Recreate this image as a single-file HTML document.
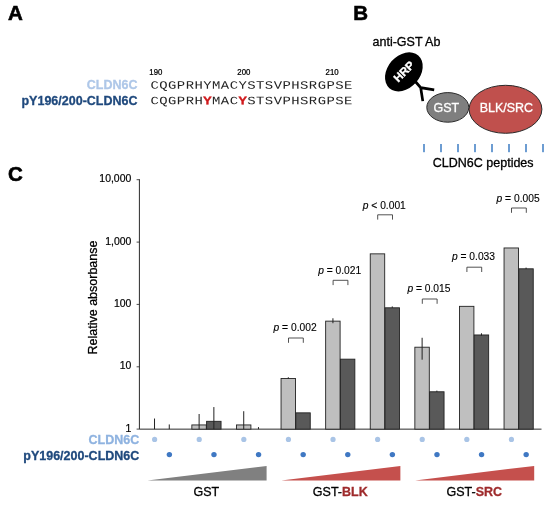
<!DOCTYPE html>
<html lang="en"><head><meta charset="utf-8"><title>Figure</title>
<style>
html,body{margin:0;padding:0;background:#fff;}
svg{display:block;}
text{font-family:"Liberation Sans", Arial, Helvetica, sans-serif;fill:#000;stroke:#000;stroke-width:0.3px;}
.b{font-weight:bold;}
.m{font-family:"Liberation Mono", "Courier New", monospace;fill:#222;stroke:none;}
.lb{fill:#8fb3e0;stroke:#8fb3e0;font-weight:bold;}
.la{fill:#aec7e8;stroke:#aec7e8;font-weight:bold;}
.db{fill:#1f497d;stroke:#1f497d;font-weight:bold;}
.ax{font-size:10.45px;stroke-width:0.2px;}
.pv{font-size:10.25px;stroke-width:0.12px;}
.t{font-size:12.5px;}
.pl{font-weight:bold;font-size:20.5px;stroke-width:0.6px;}
.w{fill:#fff;stroke:#fff;}
</style></head><body>
<svg width="550" height="506" viewBox="0 0 550 506">
<rect width="550" height="506" fill="#fff"/>

<text class="pl" x="7.9" y="20.4">A</text>
<text class="pl" x="353.2" y="20.4">B</text>
<text class="pl" x="8.1" y="180.9">C</text>
<text class="la t" x="137.5" y="88.9" text-anchor="end">CLDN6C</text>
<text class="db t" x="137.5" y="105.2" text-anchor="end">pY196/200-CLDN6C</text>
<text transform="translate(149.3 75.2) scale(0.93 1)" font-size="8.4" style="stroke-width:0.25px">190</text>
<text transform="translate(237.3 75.2) scale(0.93 1)" font-size="8.4" style="stroke-width:0.25px">200</text>
<text transform="translate(325.6 75.2) scale(0.93 1)" font-size="8.4" style="stroke-width:0.25px">210</text>
<text class="m" transform="translate(154.6 88.8) rotate(0.03) scale(1.22 1)" font-size="11.4" text-anchor="middle">C</text>
<text class="m" transform="translate(163.4 88.8) rotate(0.03) scale(1.22 1)" font-size="11.4" text-anchor="middle">Q</text>
<text class="m" transform="translate(172.2 88.8) rotate(0.03) scale(1.22 1)" font-size="11.4" text-anchor="middle">G</text>
<text class="m" transform="translate(181.0 88.8) rotate(0.03) scale(1.22 1)" font-size="11.4" text-anchor="middle">P</text>
<text class="m" transform="translate(189.8 88.8) rotate(0.03) scale(1.22 1)" font-size="11.4" text-anchor="middle">R</text>
<text class="m" transform="translate(198.6 88.8) rotate(0.03) scale(1.22 1)" font-size="11.4" text-anchor="middle">H</text>
<text class="m" transform="translate(207.4 88.8) rotate(0.03) scale(1.22 1)" font-size="11.4" text-anchor="middle">Y</text>
<text class="m" transform="translate(216.2 88.8) rotate(0.03) scale(1.22 1)" font-size="11.4" text-anchor="middle">M</text>
<text class="m" transform="translate(225.0 88.8) rotate(0.03) scale(1.22 1)" font-size="11.4" text-anchor="middle">A</text>
<text class="m" transform="translate(233.8 88.8) rotate(0.03) scale(1.22 1)" font-size="11.4" text-anchor="middle">C</text>
<text class="m" transform="translate(242.6 88.8) rotate(0.03) scale(1.22 1)" font-size="11.4" text-anchor="middle">Y</text>
<text class="m" transform="translate(251.4 88.8) rotate(0.03) scale(1.22 1)" font-size="11.4" text-anchor="middle">S</text>
<text class="m" transform="translate(260.2 88.8) rotate(0.03) scale(1.22 1)" font-size="11.4" text-anchor="middle">T</text>
<text class="m" transform="translate(269.0 88.8) rotate(0.03) scale(1.22 1)" font-size="11.4" text-anchor="middle">S</text>
<text class="m" transform="translate(277.8 88.8) rotate(0.03) scale(1.22 1)" font-size="11.4" text-anchor="middle">V</text>
<text class="m" transform="translate(286.6 88.8) rotate(0.03) scale(1.22 1)" font-size="11.4" text-anchor="middle">P</text>
<text class="m" transform="translate(295.4 88.8) rotate(0.03) scale(1.22 1)" font-size="11.4" text-anchor="middle">H</text>
<text class="m" transform="translate(304.2 88.8) rotate(0.03) scale(1.22 1)" font-size="11.4" text-anchor="middle">S</text>
<text class="m" transform="translate(313.0 88.8) rotate(0.03) scale(1.22 1)" font-size="11.4" text-anchor="middle">R</text>
<text class="m" transform="translate(321.8 88.8) rotate(0.03) scale(1.22 1)" font-size="11.4" text-anchor="middle">G</text>
<text class="m" transform="translate(330.6 88.8) rotate(0.03) scale(1.22 1)" font-size="11.4" text-anchor="middle">P</text>
<text class="m" transform="translate(339.4 88.8) rotate(0.03) scale(1.22 1)" font-size="11.4" text-anchor="middle">S</text>
<text class="m" transform="translate(348.2 88.8) rotate(0.03) scale(1.22 1)" font-size="11.4" text-anchor="middle">E</text>
<text class="m" transform="translate(154.6 104.3) rotate(0.03) scale(1.22 1)" font-size="11.4" text-anchor="middle">C</text>
<text class="m" transform="translate(163.4 104.3) rotate(0.03) scale(1.22 1)" font-size="11.4" text-anchor="middle">Q</text>
<text class="m" transform="translate(172.2 104.3) rotate(0.03) scale(1.22 1)" font-size="11.4" text-anchor="middle">G</text>
<text class="m" transform="translate(181.0 104.3) rotate(0.03) scale(1.22 1)" font-size="11.4" text-anchor="middle">P</text>
<text class="m" transform="translate(189.8 104.3) rotate(0.03) scale(1.22 1)" font-size="11.4" text-anchor="middle">R</text>
<text class="m" transform="translate(198.6 104.3) rotate(0.03) scale(1.22 1)" font-size="11.4" text-anchor="middle">H</text>
<text class="m" transform="translate(207.4 104.3) rotate(0.03) scale(1.22 1)" font-size="11.4" text-anchor="middle" style="fill:#d0191c;stroke:#d0191c;stroke-width:0.3px;font-weight:bold">Y</text>
<text class="m" transform="translate(216.2 104.3) rotate(0.03) scale(1.22 1)" font-size="11.4" text-anchor="middle">M</text>
<text class="m" transform="translate(225.0 104.3) rotate(0.03) scale(1.22 1)" font-size="11.4" text-anchor="middle">A</text>
<text class="m" transform="translate(233.8 104.3) rotate(0.03) scale(1.22 1)" font-size="11.4" text-anchor="middle">C</text>
<text class="m" transform="translate(242.6 104.3) rotate(0.03) scale(1.22 1)" font-size="11.4" text-anchor="middle" style="fill:#d0191c;stroke:#d0191c;stroke-width:0.3px;font-weight:bold">Y</text>
<text class="m" transform="translate(251.4 104.3) rotate(0.03) scale(1.22 1)" font-size="11.4" text-anchor="middle">S</text>
<text class="m" transform="translate(260.2 104.3) rotate(0.03) scale(1.22 1)" font-size="11.4" text-anchor="middle">T</text>
<text class="m" transform="translate(269.0 104.3) rotate(0.03) scale(1.22 1)" font-size="11.4" text-anchor="middle">S</text>
<text class="m" transform="translate(277.8 104.3) rotate(0.03) scale(1.22 1)" font-size="11.4" text-anchor="middle">V</text>
<text class="m" transform="translate(286.6 104.3) rotate(0.03) scale(1.22 1)" font-size="11.4" text-anchor="middle">P</text>
<text class="m" transform="translate(295.4 104.3) rotate(0.03) scale(1.22 1)" font-size="11.4" text-anchor="middle">H</text>
<text class="m" transform="translate(304.2 104.3) rotate(0.03) scale(1.22 1)" font-size="11.4" text-anchor="middle">S</text>
<text class="m" transform="translate(313.0 104.3) rotate(0.03) scale(1.22 1)" font-size="11.4" text-anchor="middle">R</text>
<text class="m" transform="translate(321.8 104.3) rotate(0.03) scale(1.22 1)" font-size="11.4" text-anchor="middle">G</text>
<text class="m" transform="translate(330.6 104.3) rotate(0.03) scale(1.22 1)" font-size="11.4" text-anchor="middle">P</text>
<text class="m" transform="translate(339.4 104.3) rotate(0.03) scale(1.22 1)" font-size="11.4" text-anchor="middle">S</text>
<text class="m" transform="translate(348.2 104.3) rotate(0.03) scale(1.22 1)" font-size="11.4" text-anchor="middle">E</text>
<text class="t" x="372.5" y="45.7">anti-GST Ab</text>
<g stroke="#000" stroke-width="2.7" stroke-linecap="butt" fill="none"><path d="M414.5 80.5 L420.7 87.7 L434.2 89.9 M420.7 87.7 L422.8 101.1"/></g>
<ellipse cx="403.85" cy="71.85" rx="21.8" ry="16.2" transform="rotate(-48.5 403.85 71.85)" fill="#000"/>
<text class="b w" x="403.6" y="75.6" font-size="11.4" text-anchor="middle" transform="rotate(-45 403.6 71.2)">HRP</text>
<ellipse cx="447.8" cy="107.4" rx="21" ry="14.8" fill="#7f7f7f" stroke="#2a2a2a" stroke-width="1"/>
<ellipse cx="505.5" cy="109.3" rx="36.4" ry="24" fill="#c0504d" stroke="#2a2a2a" stroke-width="1"/>
<text class="t w" x="446.3" y="112.2" text-anchor="middle">GST</text>
<text class="t w" x="506.4" y="112.2" text-anchor="middle">BLK/SRC</text>
<rect x="423.2" y="144" width="1.6" height="8.2" fill="#4a86c8"/>
<rect x="440.2" y="144" width="1.6" height="8.2" fill="#4a86c8"/>
<rect x="457.2" y="144" width="1.6" height="8.2" fill="#4a86c8"/>
<rect x="474.2" y="144" width="1.6" height="8.2" fill="#4a86c8"/>
<rect x="491.2" y="144" width="1.6" height="8.2" fill="#4a86c8"/>
<rect x="508.2" y="144" width="1.6" height="8.2" fill="#4a86c8"/>
<rect x="525.2" y="144" width="1.6" height="8.2" fill="#4a86c8"/>
<rect x="542.2" y="144" width="1.6" height="8.2" fill="#4a86c8"/>
<text class="t" x="483.2" y="166.8" text-anchor="middle">CLDN6C peptides</text>
<g stroke="#2b2b2b" stroke-width="1" fill="none">
<path d="M139.4 179.2 V429.15 H541.5"/>
<path d="M136.6 429.1 H139.4" stroke-width="0.85"/>
<path d="M136.6 366.8 H139.4" stroke-width="0.85"/>
<path d="M136.6 304.4 H139.4" stroke-width="0.85"/>
<path d="M136.6 242.1 H139.4" stroke-width="0.85"/>
<path d="M136.6 179.7 H139.4" stroke-width="0.85"/>
</g>
<text class="ax" x="131.3" y="431.5" text-anchor="end">1</text>
<text class="ax" x="131.3" y="369.2" text-anchor="end">10</text>
<text class="ax" x="131.3" y="306.8" text-anchor="end">100</text>
<text class="ax" x="131.3" y="244.5" text-anchor="end">1,000</text>
<text class="ax" x="131.3" y="182.1" text-anchor="end">10,000</text>
<text class="t" x="0" y="0" font-size="12.4" text-anchor="middle" transform="translate(96.8 297.5) rotate(-90)">Relative absorbanse</text>
<path d="M154.52 418.53 V429.15" stroke="#222" stroke-width="1" fill="none"/>
<path d="M169.27 424.44 V429.15" stroke="#222" stroke-width="1" fill="none"/>
<circle cx="154.62" cy="439.4" r="2.6" fill="#a9c4e6"/>
<circle cx="169.38" cy="454.6" r="2.7" fill="#3f78c3"/>
<rect x="191.85" y="424.94" width="14.45" height="4.21" fill="#bfbfbf" stroke="#222" stroke-width="0.9"/>
<path d="M199.12 414.00 V429.15" stroke="#222" stroke-width="1" fill="none"/>
<rect x="206.60" y="421.32" width="14.45" height="7.83" fill="#595959" stroke="#222" stroke-width="0.9"/>
<path d="M213.87 407.07 V429.15" stroke="#222" stroke-width="1" fill="none"/>
<circle cx="199.22" cy="439.4" r="2.6" fill="#a9c4e6"/>
<circle cx="213.97" cy="454.6" r="2.7" fill="#3f78c3"/>
<rect x="236.45" y="424.94" width="14.45" height="4.21" fill="#bfbfbf" stroke="#222" stroke-width="0.9"/>
<path d="M243.72 411.21 V429.15" stroke="#222" stroke-width="1" fill="none"/>
<path d="M258.47 427.07 V429.15" stroke="#222" stroke-width="1" fill="none"/>
<circle cx="243.82" cy="439.4" r="2.6" fill="#a9c4e6"/>
<circle cx="258.57" cy="454.6" r="2.7" fill="#3f78c3"/>
<rect x="281.05" y="378.55" width="14.45" height="50.60" fill="#bfbfbf" stroke="#222" stroke-width="0.9"/>
<path d="M288.32 377.24 V378.88" stroke="#222" stroke-width="1" fill="none"/>
<rect x="295.80" y="412.85" width="14.45" height="16.30" fill="#595959" stroke="#222" stroke-width="0.9"/>
<circle cx="288.43" cy="439.4" r="2.6" fill="#a9c4e6"/>
<circle cx="303.18" cy="454.6" r="2.7" fill="#3f78c3"/>
<rect x="325.65" y="321.14" width="14.45" height="108.01" fill="#bfbfbf" stroke="#222" stroke-width="0.9"/>
<path d="M332.93 318.28 V323.22" stroke="#222" stroke-width="1" fill="none"/>
<rect x="340.40" y="359.17" width="14.45" height="69.98" fill="#595959" stroke="#222" stroke-width="0.9"/>
<circle cx="333.03" cy="439.4" r="2.6" fill="#a9c4e6"/>
<circle cx="347.78" cy="454.6" r="2.7" fill="#3f78c3"/>
<rect x="370.25" y="253.85" width="14.45" height="175.30" fill="#bfbfbf" stroke="#222" stroke-width="0.9"/>
<rect x="385.00" y="307.80" width="14.45" height="121.35" fill="#595959" stroke="#222" stroke-width="0.9"/>
<path d="M392.27 306.42 V307.91" stroke="#222" stroke-width="1" fill="none"/>
<circle cx="377.62" cy="439.4" r="2.6" fill="#a9c4e6"/>
<circle cx="392.38" cy="454.6" r="2.7" fill="#3f78c3"/>
<rect x="414.85" y="347.21" width="14.45" height="81.94" fill="#bfbfbf" stroke="#222" stroke-width="0.9"/>
<path d="M422.12 337.78 V359.70" stroke="#222" stroke-width="1" fill="none"/>
<rect x="429.60" y="391.78" width="14.45" height="37.37" fill="#595959" stroke="#222" stroke-width="0.9"/>
<path d="M436.88 390.61 V391.95" stroke="#222" stroke-width="1" fill="none"/>
<circle cx="422.23" cy="439.4" r="2.6" fill="#a9c4e6"/>
<circle cx="436.98" cy="454.6" r="2.7" fill="#3f78c3"/>
<rect x="459.45" y="306.34" width="14.45" height="122.81" fill="#bfbfbf" stroke="#222" stroke-width="0.9"/>
<rect x="474.20" y="334.97" width="14.45" height="94.18" fill="#595959" stroke="#222" stroke-width="0.9"/>
<path d="M481.47 333.27 V335.73" stroke="#222" stroke-width="1" fill="none"/>
<circle cx="466.82" cy="439.4" r="2.6" fill="#a9c4e6"/>
<circle cx="481.57" cy="454.6" r="2.7" fill="#3f78c3"/>
<rect x="504.05" y="247.97" width="14.45" height="181.18" fill="#bfbfbf" stroke="#222" stroke-width="0.9"/>
<rect x="518.80" y="268.80" width="14.45" height="160.35" fill="#595959" stroke="#222" stroke-width="0.9"/>
<path d="M526.08 267.60 V269.02" stroke="#222" stroke-width="1" fill="none"/>
<circle cx="511.43" cy="439.4" r="2.6" fill="#a9c4e6"/>
<circle cx="526.17" cy="454.6" r="2.7" fill="#3f78c3"/>
<text class="pv" x="295.1" y="331.3" text-anchor="middle"><tspan font-style="italic">p</tspan> = 0.002</text>
<path d="M288.5 342.8 V338 H303.3 V342.8" stroke="#333" stroke-width="0.85" fill="none"/>
<text class="pv" x="339.7" y="274" text-anchor="middle"><tspan font-style="italic">p</tspan> = 0.021</text>
<path d="M333.1 285.1 V280.3 H347.9 V285.1" stroke="#333" stroke-width="0.85" fill="none"/>
<text class="pv" x="384.3" y="208.8" text-anchor="middle"><tspan font-style="italic">p</tspan> &lt; 0.001</text>
<path d="M377.7 219.60000000000002 V214.8 H392.5 V219.60000000000002" stroke="#333" stroke-width="0.85" fill="none"/>
<text class="pv" x="428.9" y="292.1" text-anchor="middle"><tspan font-style="italic">p</tspan> = 0.015</text>
<path d="M422.3 303.8 V299 H437.1 V303.8" stroke="#333" stroke-width="0.85" fill="none"/>
<text class="pv" x="473.5" y="260.4" text-anchor="middle"><tspan font-style="italic">p</tspan> = 0.033</text>
<path d="M466.9 272.0 V267.2 H481.7 V272.0" stroke="#333" stroke-width="0.85" fill="none"/>
<text class="pv" x="518.1" y="201.7" text-anchor="middle"><tspan font-style="italic">p</tspan> = 0.005</text>
<path d="M511.5 212.8 V208 H526.3 V212.8" stroke="#333" stroke-width="0.85" fill="none"/>
<path d="M147.4 480.5 L266.6 465.9 V480.5 Z" fill="#808080"/>
<path d="M281.2 480.5 L400.4 465.9 V480.5 Z" fill="#c5504d"/>
<path d="M415.1 480.5 L534.2 465.9 V480.5 Z" fill="#c5504d"/>
<text class="t" x="206.4" y="496.2" text-anchor="middle">GST</text>
<text class="t" x="340.3" y="496.2" text-anchor="middle">GST-<tspan class="b" style="fill:#9e2a2b;stroke:#9e2a2b">BLK</tspan></text>
<text class="t" x="474.3" y="496.2" text-anchor="middle">GST-<tspan class="b" style="fill:#9e2a2b;stroke:#9e2a2b">SRC</tspan></text>
<text class="lb t" x="139.3" y="443.7" text-anchor="end">CLDN6C</text>
<text class="db t" x="139.3" y="459.6" text-anchor="end">pY196/200-CLDN6C</text>
</svg></body></html>
